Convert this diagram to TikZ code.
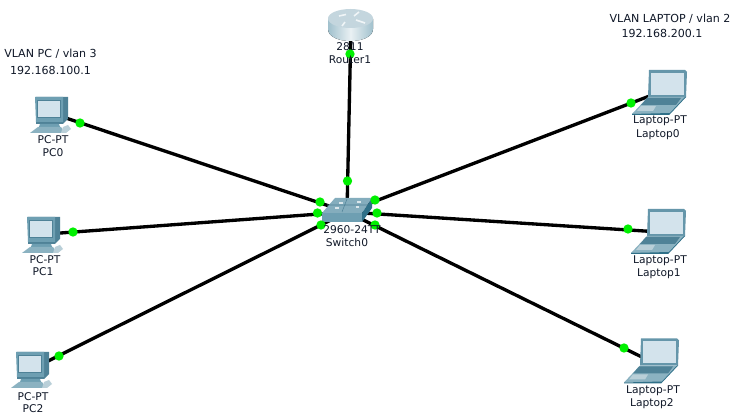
\documentclass[tikz,border=0pt]{standalone}
\usepackage{fontspec}
\setmainfont{DejaVu Sans}
\definecolor{tealA}{HTML}{6E9FB2}
\definecolor{tealB}{HTML}{4F8297}
\definecolor{tealC}{HTML}{2F7088}
\definecolor{screenC}{HTML}{D3E3EC}
\definecolor{greyA}{HTML}{B9CFD8}
\definecolor{dotG}{HTML}{00F000}
\definecolor{inkC}{HTML}{101828}
\tikzset{
 x=0.75pt,y=-0.75pt,
 link/.style={line width=2.5pt,black},
 anchorpt/.style={inner sep=0pt,minimum size=0pt,outer sep=0pt},
 dot/.style={circle,fill=dotG,draw=none,inner sep=0pt,minimum size=7pt},
 lab/.style={font=\fontsize{8}{9.6}\selectfont,inner sep=0pt,align=center,text=inkC},
 notelab/.style={lab,font=\fontsize{8.3}{10}\selectfont},
 pcicon/.pic={
  \fill[tealB] (1,0) -- (33,0) -- (33,22) -- (28,27) -- (1,27) -- cycle;
  \fill[tealA] (0,0) -- (28,0) -- (28,25) -- (1,25) -- cycle;
  \fill[screenC,draw=tealB,line width=.3pt] (2.5,3.5) -- (25,3.5) -- (25,20.5) -- (2.5,20.5) -- cycle;
  \fill[tealA] (5,27) -- (24,27) -- (25,30) -- (4,30) -- cycle;
  \fill[tealA!80] (3,30) -- (26,30) -- (30,36) -- (-5,36) -- cycle;
  \fill[greyA] (28,30) -- (33,28) -- (36,32) -- (31,36) -- (26,36) -- cycle;
 },
 lapicon/.pic={
  \fill[tealA!70!tealB] (1,0) -- (37,0) -- (39,2) -- (38,27) -- (0,27) -- cycle;
  \fill[screenC] (3,3) -- (36,3) -- (36,25) -- (3,25) -- cycle;
  \fill[tealA!80] (0,27) -- (38,27) -- (22,44) -- (-16,44) -- cycle;
  \fill[tealB] (-1,28) -- (33,28) -- (28,35) -- (-7,35) -- cycle;
  \fill[tealC] (38,27) -- (22,44) -- (21,45) -- (-16,45) -- (-16,44) -- (22,43) -- (37,27) -- cycle;
  \fill[greyA] (-7,36) -- (8,36) -- (5,41) -- (-11,41) -- cycle;
 }
}
\begin{document}
\begin{tikzpicture}
\useasboundingbox (0,0) rectangle (740,417);
\fill[white] (0,0) rectangle (740,417);
% hub and end points
\node[anchorpt] (sw) at (347,212) {};
\node[anchorpt] (r1) at (351,25) {};
\node[anchorpt] (pc0) at (62,116.7) {};
\node[anchorpt] (pc1) at (55,233.4) {};
\node[anchorpt] (pc2) at (38,366) {};
\node[anchorpt] (lt0) at (660,92) {};
\node[anchorpt] (lt1) at (660,232) {};
\node[anchorpt] (lt2) at (654,363) {};
% connectors
\foreach \e in {r1,pc0,pc1,pc2,lt0,lt1,lt2} \draw[link] (sw) -- (\e);
% router
\fill[left color=tealA!65,right color=tealA!65,middle color=white!85!tealA]
  (328,19) -- (328,29) .. controls (328,45) and (373,45) .. (373,29) -- (373,19) -- cycle;
\fill[greyA!85] (350.5,18.5) ellipse[x radius=22.5,y radius=9.5];
\draw[white!90!tealA,line width=1.2pt] (339,16) -- (346,14.5) (359,12) -- (354,16) (345,22) -- (342,26) (356,20) -- (365,23);
% PCs
\pic at (35,97) {pcicon};
\pic at (27,217) {pcicon};
\pic at (16,352) {pcicon};
% laptops
\pic at (648,70) {lapicon};
\pic at (647,209) {lapicon};
\pic at (640,338.5) {lapicon};
% switch
\fill[tealA!85] (335,198) -- (372,198) -- (362,213) -- (322,213) -- cycle;
\fill[tealA] (322,213) -- (362,213) -- (362,222) -- (322,222) -- cycle;
\fill[tealC] (362,213) -- (372,198) -- (372,208) -- (362,222) -- cycle;
\draw[white,line width=.8pt,opacity=.7] (339,203) -- (343,203) (357,202) -- (361,202) (335,208) -- (339,208) (356,207) -- (359,207);
\draw[tealB,line width=.4pt] (347,199) -- (342,212) (327,205) -- (367,205);
% status dots
\foreach \a/\b [count=\i] in {80/123,73/232,59/356,320/202,317.5/213,321/225,347.5/181,350/54,375/200,377/213,375/225,631/103,628/229,624/348}
  \node[dot] (d\i) at (\a,\b) {};
% labels
\node[lab] (tr1) at (350,46.5) {2811};
\node[lab] (nr1) at (350,59.5) {Router1};
\node[lab] (tsw) at (352,229.5) {2960-24TT};
\node[lab] (nsw) at (347,242.5) {Switch0};
\node[lab] (tp0) at (53,139.5) {PC-PT};
\node[lab] (np0) at (53,152.5) {PC0};
\node[lab] (tp1) at (45,259.5) {PC-PT};
\node[lab] (np1) at (43,271.5) {PC1};
\node[lab] (tp2) at (33,396.5) {PC-PT};
\node[lab] (np2) at (33,408.5) {PC2};
\node[lab] (tl0) at (660,120.5) {Laptop-PT};
\node[lab] (nl0) at (658,134.5) {Laptop0};
\node[lab] (tl1) at (660,260.5) {Laptop-PT};
\node[lab] (nl1) at (659,273.5) {Laptop1};
\node[lab] (tl2) at (653,390.5) {Laptop-PT};
\node[lab] (nl2) at (652,403.5) {Laptop2};
\node[notelab] (v1) at (50.5,53.5) {VLAN PC / vlan 3};
\node[notelab] (i1) at (50.5,70.5) {192.168.100.1};
\node[notelab] (v2) at (670,18.5) {VLAN LAPTOP / vlan 2};
\node[notelab] (i2) at (662,33.5) {192.168.200.1};
\end{tikzpicture}
\end{document}
